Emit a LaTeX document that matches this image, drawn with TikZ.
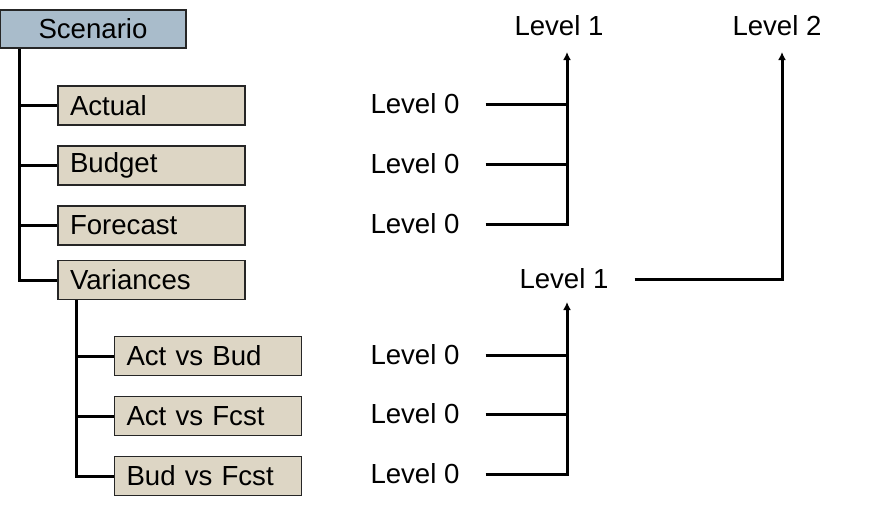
\documentclass[tikz,border=0pt]{standalone}
\usepackage{fontspec}
\setmainfont{Liberation Sans}
\usepackage{tikz}
\usetikzlibrary{positioning, arrows.meta}
\definecolor{scenblue}{RGB}{169,188,203}
\definecolor{membtan}{RGB}{221,214,197}
\tikzset{%
	>={Latex[length=8pt,width=8pt]},
	link/.style = {line width = 3pt},
	root/.style = {name = #1, draw = black!85, line width = 1.2pt, fill = scenblue, minimum width = 186pt, minimum height = 38pt, inner sep = 0pt},
	memb/.style = {name = #1, draw = black!85, line width = 1.2pt, fill = membtan, text width = 163pt, minimum height = 39pt, inner xsep = 12pt, inner ysep = 0pt, align = left},
	lev/.style = {name = #1, inner xsep = 26pt, inner ysep = 2pt}
}

\begin{document}
\begin{tikzpicture}[x=1pt, y=-1pt, font=\fontsize{27.6}{32}\selectfont]
			\useasboundingbox (0,0) rectangle (871,509);
			% dimension tree
			\node [root = {sc}] at (93,29) {Scenario};
			\node [memb = {act}] at (151.5,105.5) {Actual};
			\node [memb = {bud}] at (151.5,165.5) {Budget};
			\node [memb = {fc}] at (151.5,225.5) {Forecast};
			\node [memb = {var}] at (151.5,280) {Variances};
			\node [memb = {avb}] at (208,356) {Act vs Bud};
			\node [memb = {avf}] at (208,416) {Act vs Fcst};
			\node [memb = {bvf}] at (208,476) {Bud vs Fcst};
			\draw [link] ([xshift=20pt]sc.south west) coordinate (s0) |- (var.west);
			\foreach \m in {act, bud, fc}
				\draw [link] (s0 |- \m.west) -- (\m.west);
			\draw [link] ([xshift=19pt]var.south west) coordinate (v0) |- (bvf.west);
			\foreach \m in {avb, avf}
				\draw [link] (v0 |- \m.west) -- (\m.west);
			% levels
			\node [lev = {a0}] at (415,104) {Level 0};
			\node [lev = {b0}] at (415,164) {Level 0};
			\node [lev = {f0}] at (415,224) {Level 0};
			\node [lev = {x0}] at (415,355) {Level 0};
			\node [lev = {y0}] at (415,414) {Level 0};
			\node [lev = {z0}] at (415,474) {Level 0};
			\node [lev = {up1}] at (559,26) {Level 1};
			\node [lev = {up2}] at (777,26) {Level 2};
			\node [lev = {mid1}] at (564,279) {Level 1};
			\coordinate (tip1) at (567,52);
			\coordinate (tip2) at (782,52);
			\coordinate (tip3) at (567,302);
			\draw [link, ->] (f0.east) -| (tip1);
			\draw [link] (a0.east) -- (a0.east -| tip1);
			\draw [link] (b0.east) -- (b0.east -| tip1);
			\draw [link, ->] (z0.east) -| (tip3);
			\draw [link] (x0.east) -- (x0.east -| tip3);
			\draw [link] (y0.east) -- (y0.east -| tip3);
			\draw [link, ->] (mid1.east) -| (tip2);
			\end{tikzpicture}
\end{document}
